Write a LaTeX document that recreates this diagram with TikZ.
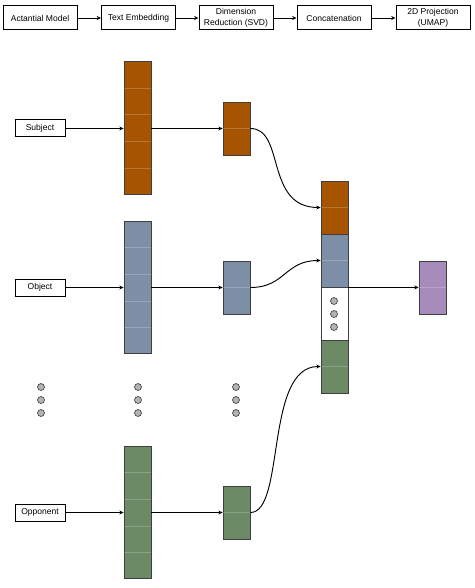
\documentclass[tikz,border=0pt]{standalone}
\usepackage{fontspec}
\setmainfont{Liberation Sans}
\usetikzlibrary{arrows.meta,calc}
\definecolor{corange}{HTML}{A65400}
\definecolor{cblue}{HTML}{7D8FA6}
\definecolor{cgreen}{HTML}{6C8A66}
\definecolor{cpurple}{HTML}{A68BBB}
\definecolor{cedge}{HTML}{3F3F3F}
\definecolor{cdot}{HTML}{B4B4B4}
\tikzset{
  hbox/.style={draw=black, line width=0.75pt, minimum width=55.5pt, minimum height=18pt, inner sep=0pt, align=center, font=\fontsize{6.4}{8.4}\selectfont},
  lbox/.style={draw=black, line width=0.75pt, minimum width=37.5pt, minimum height=12.75pt, inner sep=0pt, font=\fontsize{6.4}{7.5}\selectfont},
  bigbar/.style={draw=cedge, line width=0.6pt, fill=#1, minimum width=20.25pt, minimum height=99.5pt, inner sep=0pt},
  smallbar/.style={draw=cedge, line width=0.6pt, fill=#1, minimum width=20.25pt, minimum height=39.75pt, inner sep=0pt},
  divider/.style={draw=white, opacity=0.2, line width=0.5pt},
  conn/.style={draw=black, line width=0.7pt, -{Stealth[length=3.2pt,width=3pt]}},
  dotc/.style={circle, draw=cedge, line width=0.5pt, fill=cdot, minimum size=5.2pt, inner sep=0pt},
}
\newcommand{\cellsplit}[2]{%
  \foreach \i in {1,...,#2}{%
    \pgfmathsetmacro{\frac}{\i/(#2+1)}%
    \draw[divider] ($(#1.north west)!\frac!(#1.south west)$) -- ($(#1.north east)!\frac!(#1.south east)$);
  }%
}
\begin{document}
\begin{tikzpicture}[x=0.75pt,y=-0.75pt]
\useasboundingbox (0,0) rectangle (474,588);
% header
\node[hbox] (h1) at (40,18) {Actantial Model};
\node[hbox] (h2) at (138.5,18) {Text Embedding};
\node[hbox] (h3) at (236,18) {Dimension\\Reduction (SVD)};
\node[hbox] (h4) at (334,18) {Concatenation};
\node[hbox] (h5) at (433,18) {2D Projection\\(UMAP)};
\draw[conn] (h1) -- (h2);
\draw[conn] (h2) -- (h3);
\draw[conn] (h3) -- (h4);
\draw[conn] (h4) -- (h5);
% subject row
\node[lbox] (subj) at (40,128.5) {Subject};
\node[bigbar=corange] (sbig) at (137.5,128) {};
\node[smallbar=corange] (ssmall) at (236.5,128.5) {};
% object row
\node[lbox] (obj) at (40,287.5) {Object};
\node[bigbar=cblue] (obig) at (137.5,287.5) {};
\node[smallbar=cblue] (osmall) at (236.5,287.5) {};
% opponent row
\node[lbox] (opp) at (40,512.5) {Opponent};
\node[bigbar=cgreen] (pbig) at (137.5,512.5) {};
\node[smallbar=cgreen] (psmall) at (236.5,512.5) {};
% concatenated vector
\node[smallbar=corange] (corg) at (334.5,207.5) {};
\node[smallbar=cblue] (cblu) at (334.5,260.5) {};
\node[smallbar=white] (cwht) at (334.5,313.5) {};
\node[smallbar=cgreen] (cgrn) at (334.5,366.5) {};
% projection
\node[smallbar=cpurple] (proj) at (432.5,287.5) {};
% dividers
\cellsplit{sbig}{4}
\cellsplit{obig}{4}
\cellsplit{pbig}{4}
\cellsplit{ssmall}{1}
\cellsplit{osmall}{1}
\cellsplit{psmall}{1}
\cellsplit{corg}{1}
\cellsplit{cblu}{1}
\cellsplit{cgrn}{1}
\cellsplit{proj}{1}
% dots
\node[dotc] (cd1) at (334,301) {};
\node[dotc] (cd2) at (334,314) {};
\node[dotc] (cd3) at (334,327) {};
\foreach \xx/\nm in {41/a,138/b,236/c}{
  \node[dotc] (d\nm1) at (\xx,387) {};
  \node[dotc] (d\nm2) at (\xx,400) {};
  \node[dotc] (d\nm3) at (\xx,413) {};
}
% connectors
\draw[conn] (subj.east) -- (subj.east -| sbig.west);
\draw[conn] (sbig.east |- ssmall.west) -- (ssmall.west);
\draw[conn] (obj.east) -- (obig.west);
\draw[conn] (obig.east) -- (osmall.west);
\draw[conn] (opp.east) -- (pbig.west);
\draw[conn] (pbig.east) -- (psmall.west);
\draw[conn] (ssmall.east) .. controls ($(ssmall.east)+(35,0)$) and ($(corg.west)+(-56,0)$) .. (corg.west);
\draw[conn] (osmall.east) .. controls ($(osmall.east)+(35,0)$) and ($(cblu.west)+(-36,0)$) .. (cblu.west);
\draw[conn] (psmall.east) .. controls ($(psmall.east)+(35,0)$) and ($(cgrn.west)+(-56,0)$) .. (cgrn.west);
\draw[conn] (cblu.south east) -- (cblu.south east -| proj.west);
\end{tikzpicture}
\end{document}
